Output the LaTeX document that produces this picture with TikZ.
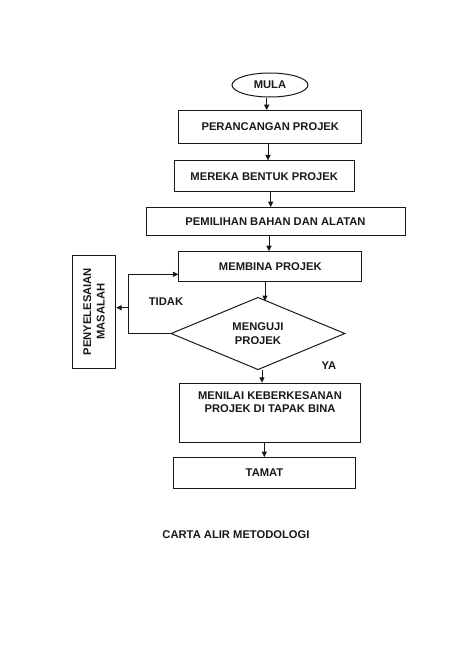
\documentclass[tikz,border=0pt]{standalone}
\usepackage{fontspec}
\setmainfont{Liberation Sans}
\usetikzlibrary{arrows.meta,shapes.geometric}
\begin{document}
\begin{tikzpicture}[x=1pt,y=-1pt,
  every node/.style={font=\bfseries\fontsize{11.2}{13.5}\selectfont, text=black!90},
  box/.style={draw=black!90, line width=1pt, rectangle, inner sep=0pt},
  arr/.style={draw=black!90, line width=1pt, -{Triangle[length=5.5pt,width=5pt]}},
  ln/.style={draw=black!90, line width=1pt}]
\useasboundingbox (0,0) rectangle (474,670);
\node[draw=black!90, line width=1pt, ellipse, minimum width=76pt, minimum height=24pt, inner sep=0pt] (mula) at (270,85) {MULA};
\node[box, minimum width=182.7pt, minimum height=32.6pt] (p1) at (270.3,127) {PERANCANGAN PROJEK};
\node[box, minimum width=179.7pt, minimum height=30.7pt] (p2) at (264.2,176.3) {MEREKA BENTUK PROJEK};
\node[box, minimum width=259pt, minimum height=28pt] (p3) at (275.5,221.7) {PEMILIHAN BAHAN DAN ALATAN};
\node[box, minimum width=182.7pt, minimum height=30pt] (p4) at (270.3,266.7) {MEMBINA PROJEK};
\node[draw=black!90, line width=1pt, diamond, minimum width=174pt, minimum height=68.4pt, inner sep=0pt, align=center] (dia) at (258,333.5) {MENGUJI\\PROJEK};
\node[box, minimum width=43.4pt, minimum height=113.3pt] (peny) at (94,311.7) {};
\node[rotate=90, align=center] (penyt) at (peny.center) {PENYELESAIAN\\MASALAH};
\node[box, minimum width=181.4pt, minimum height=59pt] (p5) at (270,412.8) {};
\node[align=center, anchor=north] (p5t) at (270,388) {MENILAI KEBERKESANAN\\PROJEK DI TAPAK BINA};
\node[box, minimum width=182.4pt, minimum height=30.6pt] (p6) at (264.5,473) {TAMAT};
\node (tidak) at (166,302) {TIDAK};
\node (ya) at (329,366) {YA};
\node (cap) at (236,535) {CARTA ALIR METODOLOGI};
\coordinate (lx) at (128.3,274.3);
\coordinate (ly) at (128.3,307.7);
\draw[arr] (mula.south -| 266.7,0) -- (p1.north -| 266.7,0);
\draw[arr] (p1.south -| 268,0) -- (p2.north -| 268,0);
\draw[arr] (p2.south -| 270.7,0) -- (p3.north -| 270.7,0);
\draw[arr] (p3.south -| 269,0) -- (p4.north -| 269,0);
\draw[arr] (p4.south -| 265,0) -- (265,301);
\draw[arr] (dia.south -| 262,0) -- (p5.north -| 262,0);
\draw[arr] (p5.south -| 264.3,0) -- (p6.north -| 264.3,0);
\draw[ln] (dia.west) -| (lx);
\draw[arr] (lx) -- (p4.west |- lx);
\draw[arr] (ly) -- (peny.east |- ly);
\end{tikzpicture}
\end{document}
